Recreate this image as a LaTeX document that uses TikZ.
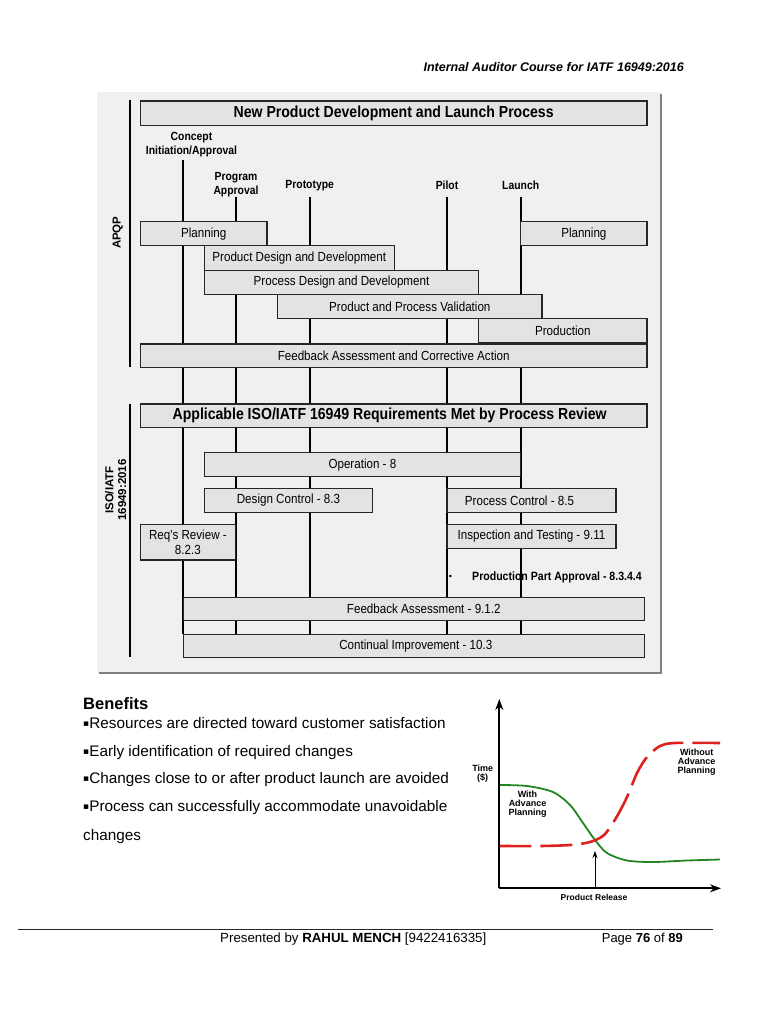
\documentclass[tikz,border=0pt]{standalone}
\usepackage{fontspec}
\setmainfont{Liberation Sans}
\newfontfamily\boxfont[FakeStretch=0.88]{Liberation Sans}
\newfontfamily\symfont{DejaVu Sans}
\usetikzlibrary{arrows.meta}
\definecolor{panel}{RGB}{240,240,240}
\definecolor{boxfill}{RGB}{227,227,227}
\definecolor{rline}{RGB}{222,32,30}
\definecolor{gline}{RGB}{34,134,34}
\definecolor{shadow}{RGB}{128,128,128}
\newcommand\sqbul{\raisebox{2.2pt}{\symfont\fontsize{9}{9}\selectfont ▪}}
\begin{document}
\begin{tikzpicture}[x=1pt,y=-1pt,
  box/.style={draw=black!85, line width=1.3pt, fill=boxfill, inner sep=0pt, outer sep=0pt,
    anchor=north west, align=center, font=\boxfont\fontsize{13.2}{14.2}\selectfont},
  tbox/.style={box, font=\boxfont\bfseries\fontsize{16}{17}\selectfont},
  mstone/.style={font=\boxfont\bfseries\fontsize{11.8}{13.8}\selectfont, align=center, inner sep=0pt},
  mline/.style={line width=1.8pt, black},
  sideline/.style={line width=1.8pt, black},
  side/.style={font=\bfseries\fontsize{11.5}{12.7}\selectfont, align=center, rotate=90, inner sep=0pt},
  body/.style={font=\fontsize{15.3}{17}\selectfont, anchor=west, inner sep=0pt},
  chartlbl/.style={font=\bfseries\fontsize{9}{9}\selectfont, align=center, inner sep=0pt},
  axis/.style={line width=1.7pt, black, -{Stealth[length=11pt,width=8pt]}},
]
\useasboundingbox (0,0) rectangle (768,1024);
\fill[white] (0,0) rectangle (768,1024);

% header
\node[font=\bfseries\itshape\fontsize{12.5}{14}\selectfont, anchor=east, inner sep=0pt] (hdr) at (684,67.5) {Internal Auditor Course for IATF 16949:2016};

% panel
\fill[panel] (97,92) rectangle (661,673);
\draw[line width=2.5pt, shadow] (99,673) -- (661,673) -- (661,94);

% side brackets
\coordinate (a1) at (130,100); \coordinate (a2) at (130,367);
\coordinate (i1) at (130,404); \coordinate (i2) at (130,657);
\draw[sideline] (a1) -- (a2);
\draw[sideline] (i1) -- (i2);
\node[side] (apqp) at (117.7,232.7) {APQP};
\node[side] (iso) at (115.7,490) {ISO/IATF\\16949:2016};

% milestone labels
\node[mstone] (lc) at (191.5,145) {Concept\\Initiation/Approval};
\node[mstone] (lpa) at (236,184.7) {Program\\Approval};
\node[mstone] (lpt) at (309.7,185.7) {Prototype};
\node[mstone] (lpi) at (447,185.7) {Pilot};
\node[mstone] (lla) at (520.7,185.7) {Launch};

% milestone lines
\coordinate (cT) at (183.3,160);   \coordinate (cB) at (183.3,634.3);
\coordinate (paT) at (236,197);    \coordinate (paB) at (236,634.3);
\coordinate (ptT) at (309.7,197);  \coordinate (ptB) at (309.7,634.3);
\coordinate (piT) at (447,197);    \coordinate (piB) at (447,634.3);
\coordinate (laT) at (520.7,197);  \coordinate (laB) at (520.7,634.3);
\draw[mline] (cT) -- (cB);
\draw[mline] (paT) -- (paB);
\draw[mline] (ptT) -- (ptB);
\draw[mline] (piT) -- (piB);
\draw[mline] (laT) -- (laB);

% APQP boxes
\node[tbox, minimum width=506.7pt, minimum height=24.5pt] (title) at (140.3,101) {New Product Development and Launch Process};
\node[box, minimum width=126.7pt, minimum height=24.2pt] (plan1) at (140.3,221.5) {Planning};
\node[box, minimum width=126.3pt, minimum height=24pt] (plan2) at (520.7,221.7) {Planning};
\node[box, minimum width=190pt, minimum height=24.6pt] (pdd) at (204.3,245.7) {Product Design and Development};
\node[box, minimum width=274.4pt, minimum height=24pt] (prd) at (204.3,270.3) {Process Design and Development};
\node[box, minimum width=264.3pt, minimum height=24.4pt] (ppv) at (277.7,294.3) {Product and Process Validation};
\node[box, minimum width=168.3pt, minimum height=24pt] (prod) at (478.7,318.7) {Production};
\node[box, minimum width=506.7pt, minimum height=23.3pt] (fbca) at (140.3,344) {Feedback Assessment and Corrective Action};

% ISO boxes
\node[tbox, minimum width=506.7pt, minimum height=23.3pt] (appl) at (140.3,404) {Applicable ISO/IATF 16949 Requirements Met by Process Review\hspace*{8pt}};
\node[box, minimum width=316.2pt, minimum height=24pt] (oper) at (204.3,452.7) {Operation - 8};
\node[box, minimum width=168.4pt, minimum height=24pt] (dc) at (204.3,488.3) {Design Control - 8.3};
\node[box, minimum width=169pt, minimum height=24pt] (pc) at (447,488.3) {Process Control - 8.5\hspace*{24pt}};
\node[box, minimum width=95.2pt, minimum height=35.7pt, font=\boxfont\fontsize{13.2}{14.3}\selectfont] (req) at (140.3,524.3) {Req's Review -\\8.2.3};
\node[box, minimum width=169pt, minimum height=24pt] (it) at (447,524.3) {Inspection and Testing - 9.11};
\node[box, minimum width=461pt, minimum height=23pt] (fb) at (183.3,597.7) {\hspace*{20pt}Feedback Assessment - 9.1.2};
\node[box, minimum width=461pt, minimum height=23.4pt] (ci) at (183.3,634.3) {\hspace*{4pt}Continual Improvement - 10.3};

% PPAP bullet text
\node[font=\fontsize{9}{9}\selectfont, inner sep=0pt] (bul) at (450.5,577.7) {•};
\node[font=\boxfont\bfseries\fontsize{12}{13}\selectfont, anchor=west, inner sep=0pt] (ppa) at (472,577.7) {Production Part Approval - 8.3.4.4};

% Benefits
\node[font=\bfseries\fontsize{16.5}{18}\selectfont, anchor=west, inner sep=0pt] (ben) at (83,704) {Benefits};
\node[body] (b1) at (83,723) {\sqbul Resources are directed toward customer satisfaction};
\node[body] (b2) at (83,752.5) {\sqbul Early identification of required changes};
\node[body] (b3) at (83,780) {\sqbul Changes close to or after product launch are avoided};
\node[body] (b4) at (83,808) {\sqbul Process can successfully accommodate unavoidable};
\node[body] (b5) at (83,836.5) {changes};

% chart
\coordinate (O) at (499.3,888.3);
\coordinate (Ytop) at (499.3,699);
\coordinate (Xend) at (721,888.3);
\draw[line width=1.8pt, gline] plot[smooth] coordinates {(499.3,785) (527,786) (553,792) (570,805) (583,823) (595,840) (607,853) (627,860.5) (653,862) (687,860.5) (720,859.5)};
\draw[line width=2.6pt, rline, dash pattern=on 32pt off 9pt] plot[smooth] coordinates {(499.3,846) (540,846) (570,845) (590,842) (604,835) (616,818) (627,797) (637,773) (647,757) (660,746) (675,743) (720,743)};
\draw[axis] (O) -- (Ytop);
\draw[axis] (O) -- (Xend);
\coordinate (relB) at (595,888.3);
\coordinate (relT) at (595,851);
\draw[line width=0.8pt, black, -{Stealth[length=7pt,width=5pt]}] (relB) -- (relT);
\node[chartlbl] (time) at (482.7,773.5) {Time\\(\$)};
\node[chartlbl, font=\bfseries\fontsize{8.5}{9}\selectfont] (rel) at (594,897.3) {Product Release};
\node[chartlbl] (wap) at (527.5,804) {With\\Advance\\Planning};
\node[chartlbl] (woap) at (696.7,762.3) {Without\\Advance\\Planning};

% footer
\coordinate (fl) at (18,929);
\coordinate (fr) at (713,929);
\draw[line width=0.9pt, black!85] (fl) -- (fr);
\node[font=\fontsize{13.3}{15}\selectfont, anchor=west, inner sep=0pt] (pres) at (220,939.5) {Presented by \textbf{RAHUL MENCH} [9422416335]};
\node[font=\fontsize{13}{15}\selectfont, anchor=east, inner sep=0pt] (page) at (683,939.5) {Page \textbf{76} of \textbf{89}};
\end{tikzpicture}
\end{document}
